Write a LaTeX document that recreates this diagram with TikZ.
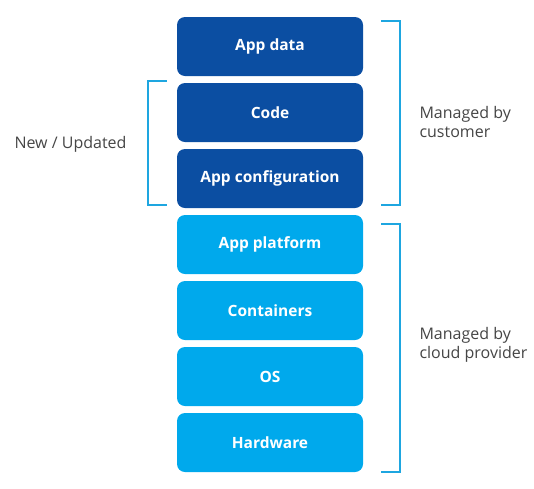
\documentclass[tikz,border=0pt]{standalone}
\usepackage{fontspec}
\setmainfont{Open Sans}
\usepackage{tikz}
\usetikzlibrary{
	positioning,
	calc
}

\definecolor{custblue}{HTML}{0B4EA2}
\definecolor{provblue}{HTML}{00A9EC}
\definecolor{brackblue}{HTML}{1EA6E0}
\definecolor{labelgray}{HTML}{454545}

\begin{document}
\begin{tikzpicture}[
		x=1pt,y=1pt,
		node distance=6.6pt,
		layer/.style={rectangle,rounded corners=8pt,minimum width=186pt,minimum height=59pt,
			text=white,font=\fontsize{15.5}{18}\selectfont\bfseries,inner sep=0pt},
		cust/.style={layer,fill=custblue},
		prov/.style={layer,fill=provblue},
		bracket/.style={draw=brackblue,line width=2.4pt},
		side/.style={text=labelgray,font=\fontsize{16}{19.5}\selectfont,align=left}
	]
	\useasboundingbox (0,0) rectangle (534,-488);

	\node [cust] (data) at (270,-46.5) {App data};
	\node [cust,below=of data]      (code) {Code};
	\node [cust,below=of code]      (conf) {App configuration};
	\node [prov,below=of conf]      (plat) {App platform};
	\node [prov,below=of plat]      (cont) {Containers};
	\node [prov,below=of cont]      (os)   {OS};
	\node [prov,below=of os]        (hw)   {Hardware};

	% brackets
	\draw [bracket] ([xshift=18pt,yshift=-4pt]data.north east) -| ([xshift=37pt,yshift=3pt]conf.south east)
		-- ([xshift=18pt,yshift=3pt]conf.south east);
	\draw [bracket] ([xshift=18pt,yshift=-9pt]plat.north east) -| ([xshift=37pt]hw.south east)
		-- ([xshift=18pt]hw.south east);
	\draw [bracket] ([xshift=-10pt,yshift=2pt]code.north west) -| ([xshift=-29pt,yshift=3pt]conf.south west)
		-- ([xshift=-10pt,yshift=3pt]conf.south west);

	% labels
	\node [side,anchor=west] (custlbl) at (416,-122) {Managed by\\customer};
	\node [side,anchor=west] (provlbl) at (416,-345) {Managed by\\cloud provider};
	\node [side,anchor=east] (newlbl)  at (130,-144) {New / Updated};
\end{tikzpicture}
\end{document}
